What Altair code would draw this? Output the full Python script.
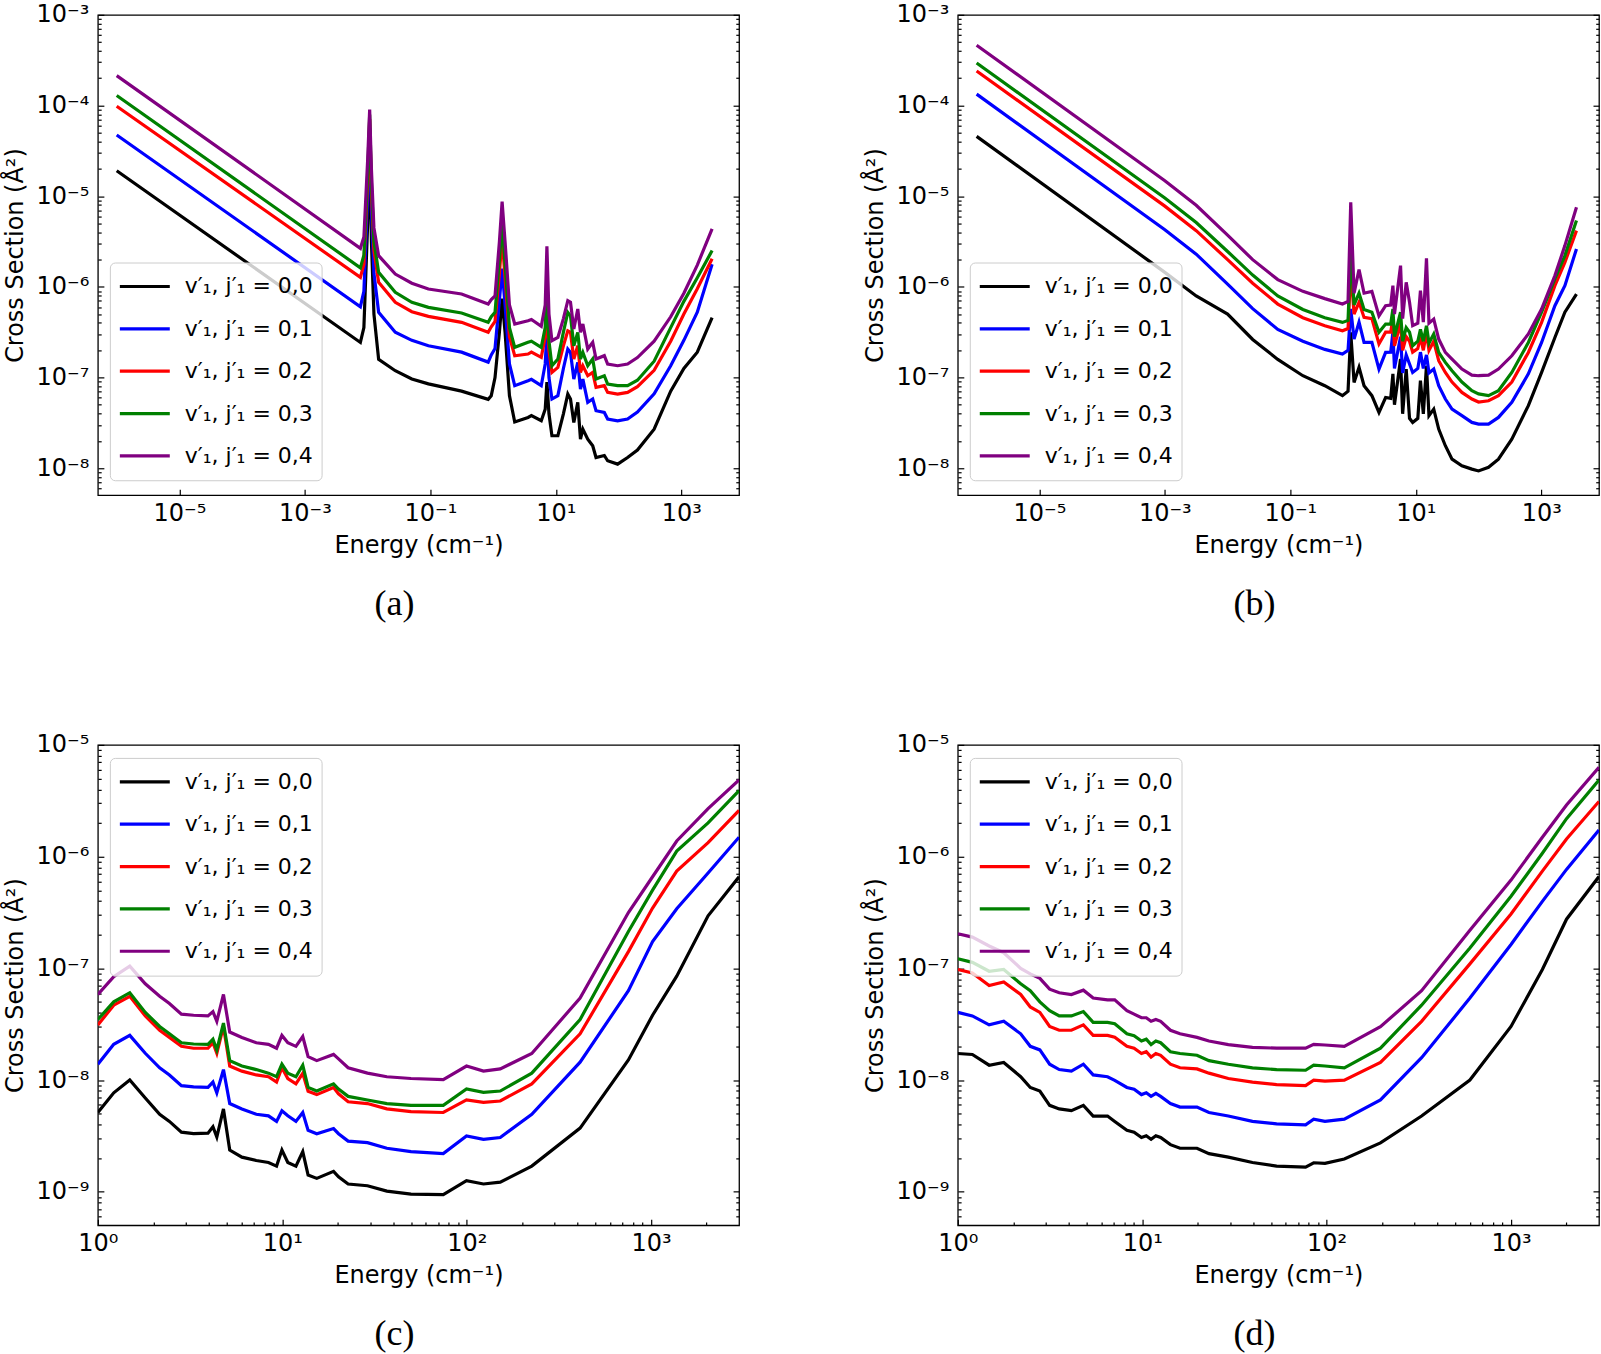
import altair as alt
import pandas as pd

SERIES = ["v′₁, j′₁ = 0,0", "v′₁, j′₁ = 0,1", "v′₁, j′₁ = 0,2",
          "v′₁, j′₁ = 0,3", "v′₁, j′₁ = 0,4"]
COLORS = ["#000000", "#0000ff", "#ff0000", "#008000", "#800080"]

# ---------------- panel (a): log10(E / cm^-1) and log10(sigma / A^2) ----------------
a_loge = [-6.0, -2.116, -2.06, -2.0, -1.968, -1.94, -1.90, -1.825, -1.56, -1.296, -1.032, -0.503,
          -0.079, -0.03, 0.03, 0.1, 0.143, 0.19, 0.26, 0.344, 0.556, 0.61, 0.767, 0.83, 0.857, 0.89,
          0.937, 1.032, 1.12, 1.19, 1.233, 1.286, 1.349, 1.392, 1.43, 1.508, 1.587, 1.64, 1.772,
          1.825, 1.984, 2.143, 2.3, 2.566, 2.83, 3.04, 3.254, 3.49]
a_00 = [-4.72, -6.613, -6.45, -5.3, -4.45, -5.5, -6.3, -6.8, -6.925, -7.016, -7.07, -7.15, -7.24,
        -7.2, -7.0, -6.5, -6.13, -6.5, -7.2, -7.49, -7.44, -7.42, -7.477, -7.35, -7.05, -7.4, -7.642,
        -7.642, -7.4, -7.182, -7.237, -7.495, -7.274, -7.679, -7.569, -7.679, -7.753, -7.882, -7.86,
        -7.918, -7.955, -7.882, -7.8, -7.57, -7.15, -6.9, -6.72, -6.34]
a_01 = [-4.325, -6.219, -6.05, -5.0, -4.25, -5.15, -5.85, -6.28, -6.5, -6.59, -6.65, -6.72, -6.83,
        -6.75, -6.68, -6.15, -5.8, -6.2, -6.85, -7.09, -7.035, -7.02, -7.09, -6.85, -6.5, -7.0,
        -7.237, -7.2, -6.9, -6.686, -6.723, -7.017, -6.833, -7.127, -7.017, -7.274, -7.237, -7.366,
        -7.385, -7.458, -7.477, -7.458, -7.38, -7.18, -6.87, -6.59, -6.28, -5.75]
a_02 = [-4.008, -5.895, -5.75, -4.85, -4.15, -4.95, -5.6, -5.95, -6.17, -6.274, -6.325, -6.391,
        -6.5, -6.44, -6.38, -5.85, -5.45, -5.9, -6.55, -6.76, -6.741, -6.72, -6.778, -6.55, -6.2,
        -6.7, -6.943, -6.888, -6.65, -6.484, -6.5, -6.796, -6.649, -6.943, -6.87, -6.98, -6.943,
        -7.109, -7.09, -7.164, -7.182, -7.164, -7.1, -6.92, -6.6, -6.3, -6.02, -5.69]
a_03 = [-3.89, -5.79, -5.65, -4.75, -4.1, -4.85, -5.5, -5.84, -6.061, -6.17, -6.226, -6.288, -6.391,
        -6.33, -6.28, -5.7, -5.3, -5.75, -6.45, -6.667, -6.612, -6.6, -6.668, -6.45, -6.0, -6.6,
        -6.87, -6.796, -6.5, -6.281, -6.32, -6.649, -6.502, -6.796, -6.723, -6.87, -6.796, -7.017,
        -6.98, -7.072, -7.09, -7.09, -7.03, -6.82, -6.45, -6.16, -5.9, -5.6]
a_04 = [-3.67, -5.575, -5.45, -4.6, -4.044, -4.7, -5.35, -5.656, -5.859, -5.96, -6.024, -6.079,
        -6.19, -6.14, -6.1, -5.5, -5.06, -5.5, -6.2, -6.41, -6.373, -6.36, -6.435, -6.2, -5.553,
        -6.3, -6.594, -6.557, -6.35, -6.152, -6.17, -6.465, -6.244, -6.502, -6.41, -6.686, -6.612,
        -6.796, -6.759, -6.851, -6.87, -6.851, -6.78, -6.6, -6.33, -6.07, -5.76, -5.36]

# ---------------- panel (b) ----------------
b_loge = [-6.0, -3.0, -2.5, -2.0, -1.6, -1.2, -0.8, -0.45, -0.169, -0.08, -0.037, 0.016, 0.095,
          0.175, 0.3, 0.413, 0.519, 0.6, 0.635, 0.66, 0.757, 0.79, 0.847, 0.9, 0.95, 1.032, 1.074,
          1.12, 1.17, 1.21, 1.286, 1.365, 1.471, 1.577, 1.735, 1.894, 2.0, 2.159, 2.317, 2.53,
          2.794, 3.005, 3.217, 3.376, 3.561]
b_00 = [-4.34, -5.84, -6.1, -6.3, -6.58, -6.8, -6.98, -7.09, -7.2, -7.15, -6.502, -7.054, -6.888,
        -7.09, -7.2, -7.385, -7.22, -7.23, -6.96, -7.3, -6.796, -7.4, -6.907, -7.45, -7.495, -7.45,
        -7.035, -7.4, -6.87, -7.42, -7.348, -7.568, -7.752, -7.9, -7.973, -8.01, -8.03, -7.99,
        -7.9, -7.68, -7.31, -6.944, -6.558, -6.28, -6.08]
b_01 = [-3.875, -5.37, -5.64, -5.97, -6.24, -6.47, -6.6, -6.69, -6.741, -6.7, -6.244, -6.576,
        -6.39, -6.612, -6.612, -6.907, -6.723, -6.72, -6.5, -6.9, -6.55, -6.95, -6.75, -6.85,
        -6.944, -6.9, -6.72, -6.9, -6.75, -6.95, -6.907, -7.09, -7.237, -7.348, -7.42, -7.495,
        -7.513, -7.513, -7.44, -7.274, -6.96, -6.613, -6.208, -5.987, -5.582]
b_02 = [-3.619, -5.11, -5.38, -5.7, -5.96, -6.19, -6.34, -6.43, -6.484, -6.46, -5.8, -6.3, -6.17,
        -6.337, -6.35, -6.63, -6.5, -6.5, -6.35, -6.65, -6.4, -6.7, -6.55, -6.6, -6.72, -6.68,
        -6.55, -6.7, -6.5, -6.7, -6.6, -6.815, -6.944, -7.05, -7.164, -7.237, -7.27, -7.256, -7.2,
        -7.05, -6.723, -6.392, -5.987, -5.73, -5.38]
b_03 = [-3.532, -5.02, -5.29, -5.61, -5.87, -6.1, -6.25, -6.34, -6.392, -6.37, -5.6, -6.2, -6.07,
        -6.25, -6.28, -6.5, -6.41, -6.41, -6.245, -6.55, -6.28, -6.6, -6.45, -6.5, -6.65, -6.6,
        -6.47, -6.6, -6.43, -6.62, -6.52, -6.723, -6.833, -6.925, -7.05, -7.146, -7.18, -7.2,
        -7.146, -6.944, -6.613, -6.28, -5.913, -5.655, -5.269]
b_04 = [-3.335, -4.83, -5.1, -5.43, -5.7, -5.92, -6.05, -6.13, -6.189, -6.16, -5.067, -6.07, -5.81,
        -6.07, -6.05, -6.32, -6.208, -6.2, -5.987, -6.3, -5.766, -6.35, -5.95, -6.17, -6.428, -6.4,
        -6.042, -6.39, -5.685, -6.4, -6.355, -6.576, -6.723, -6.796, -6.907, -6.973, -6.98,
        -6.973, -6.907, -6.76, -6.52, -6.245, -5.876, -5.545, -5.122]

# ---------------- panel (c) ----------------
c_loge = [0.0, 0.086, 0.173, 0.257, 0.335, 0.388, 0.453, 0.519, 0.597, 0.624, 0.645, 0.681, 0.715,
          0.781, 0.859, 0.925, 0.969, 0.998, 1.03, 1.074, 1.111, 1.14, 1.187, 1.278, 1.305, 1.357,
          1.462, 1.567, 1.698, 1.873, 1.999, 2.091, 2.182, 2.353, 2.615, 2.877, 3.008, 3.139,
          3.309, 3.477]
c_00 = [-8.29, -8.114, -8.0, -8.16, -8.306, -8.37, -8.466, -8.48, -8.475, -8.418, -8.51, -8.258,
        -8.626, -8.69, -8.72, -8.738, -8.77, -8.626, -8.738, -8.77, -8.64, -8.85, -8.88, -8.817,
        -8.866, -8.93, -8.946, -8.994, -9.02, -9.026, -8.9, -8.93, -8.914, -8.77, -8.43, -7.82,
        -7.42, -7.07, -6.53, -6.18]
c_01 = [-7.858, -7.68, -7.6, -7.76, -7.89, -7.954, -8.05, -8.06, -8.066, -8.018, -8.114, -7.906,
        -8.21, -8.258, -8.306, -8.32, -8.37, -8.274, -8.32, -8.37, -8.29, -8.45, -8.48, -8.434,
        -8.48, -8.546, -8.56, -8.61, -8.64, -8.658, -8.5, -8.53, -8.514, -8.306, -7.84, -7.2,
        -6.76, -6.466, -6.146, -5.826]
c_02 = [-7.506, -7.33, -7.25, -7.426, -7.554, -7.618, -7.698, -7.715, -7.715, -7.666, -7.76, -7.52,
        -7.874, -7.92, -7.954, -7.97, -8.018, -7.89, -7.986, -8.034, -7.94, -8.1, -8.13, -8.066,
        -8.123, -8.194, -8.21, -8.258, -8.283, -8.29, -8.178, -8.2, -8.187, -8.034, -7.586,
        -6.85, -6.46, -6.13, -5.874, -5.586]
c_03 = [-7.458, -7.3, -7.218, -7.394, -7.52, -7.586, -7.666, -7.677, -7.68, -7.634, -7.73, -7.49,
        -7.826, -7.874, -7.906, -7.938, -7.97, -7.858, -7.938, -7.97, -7.867, -8.066, -8.098,
        -8.034, -8.08, -8.146, -8.178, -8.21, -8.226, -8.226, -8.08, -8.11, -8.098, -7.938,
        -7.458, -6.67, -6.3, -5.95, -5.698, -5.41]
c_04 = [-7.234, -7.074, -6.98, -7.138, -7.25, -7.314, -7.41, -7.42, -7.426, -7.387, -7.474, -7.234,
        -7.57, -7.618, -7.666, -7.68, -7.715, -7.6, -7.666, -7.698, -7.61, -7.79, -7.826, -7.77,
        -7.81, -7.89, -7.938, -7.97, -7.986, -7.995, -7.874, -7.92, -7.9, -7.762, -7.266, -6.5,
        -6.18, -5.86, -5.57, -5.314]

# ---------------- panel (d) ----------------
d_loge = [0.0, 0.079, 0.17, 0.249, 0.341, 0.393, 0.445, 0.498, 0.55, 0.616, 0.681, 0.734, 0.812,
          0.851, 0.917, 0.956, 0.996, 1.022, 1.048, 1.074, 1.1, 1.153, 1.205, 1.297, 1.362, 1.467,
          1.598, 1.729, 1.886, 1.93, 1.991, 2.096, 2.292, 2.515, 2.777, 3.0, 3.17, 3.301, 3.477]
d_00 = [-7.762, -7.771, -7.867, -7.842, -7.97, -8.066, -8.098, -8.226, -8.258, -8.274, -8.226,
        -8.322, -8.322, -8.37, -8.45, -8.466, -8.514, -8.498, -8.53, -8.498, -8.514, -8.578, -8.61,
        -8.61, -8.658, -8.69, -8.738, -8.77, -8.779, -8.74, -8.745, -8.706, -8.562, -8.322, -8.0,
        -7.52, -7.01, -6.56, -6.178]
d_01 = [-7.394, -7.426, -7.506, -7.474, -7.586, -7.698, -7.73, -7.858, -7.906, -7.92, -7.858,
        -7.954, -7.97, -8.002, -8.066, -8.082, -8.13, -8.114, -8.146, -8.12, -8.146, -8.21, -8.242,
        -8.242, -8.29, -8.322, -8.37, -8.392, -8.4, -8.35, -8.37, -8.35, -8.178, -7.8, -7.266,
        -6.786, -6.4, -6.114, -5.762]
d_02 = [-7.01, -7.042, -7.154, -7.122, -7.234, -7.346, -7.394, -7.52, -7.554, -7.554, -7.506, -7.6,
        -7.6, -7.616, -7.698, -7.714, -7.762, -7.746, -7.794, -7.762, -7.778, -7.858, -7.89, -7.9,
        -7.938, -7.986, -8.018, -8.04, -8.05, -8.0, -8.01, -8.0, -7.842, -7.474, -6.96, -6.514,
        -6.13, -5.842, -5.506]
d_03 = [-6.914, -6.946, -7.026, -7.01, -7.138, -7.2, -7.3, -7.378, -7.426, -7.426, -7.387, -7.483,
        -7.483, -7.496, -7.586, -7.602, -7.65, -7.634, -7.682, -7.65, -7.666, -7.746, -7.762,
        -7.778, -7.826, -7.858, -7.89, -7.906, -7.912, -7.866, -7.874, -7.89, -7.714, -7.33,
        -6.818, -6.354, -5.97, -5.66, -5.314]
d_04 = [-6.69, -6.72, -6.8, -6.86, -7.0, -7.05, -7.09, -7.186, -7.218, -7.234, -7.195, -7.266,
        -7.282, -7.282, -7.378, -7.41, -7.442, -7.442, -7.474, -7.458, -7.474, -7.554, -7.586,
        -7.618, -7.65, -7.682, -7.707, -7.714, -7.714, -7.68, -7.686, -7.698, -7.522, -7.2, -6.658,
        -6.21, -5.826, -5.538, -5.2]

# axis ticks / labels
AB_XLABELS = [1e-5, 1e-3, 1e-1, 1e1, 1e3]
CD_XLABELS = [1.0, 10.0, 100.0, 1000.0]
AB_YLABELS = [1e-8, 1e-7, 1e-6, 1e-5, 1e-4, 1e-3]
CD_YLABELS = [1e-9, 1e-8, 1e-7, 1e-6, 1e-5]
AB_XDOM = [10 ** -6.3, 10 ** 3.92]
AB_YDOM = [10 ** -8.298, 1e-3]
CD_XDOM = [1.0, 3000.0]
CD_YDOM = [10 ** -9.3, 1e-5]

W, H = 642, 481
FONT = "DejaVu Sans"
FS = 24
LFS = 22
LW = 3.2
SUP = ("'10' + (round(log(datum.value)/LN10) < 0 ? '⁻' : '') + "
       "['⁰','¹','²','³','⁴','⁵','⁶','⁷','⁸','⁹'][abs(round(log(datum.value)/LN10))]")


def minor_ticks(dom):
    lo, hi = dom
    out = []
    for k in range(-12, 6):
        for m in range(2, 10):
            v = m * 10.0 ** k
            if lo * (1 + 1e-9) < v < hi * (1 - 1e-9):
                out.append(v)
    return out


def build_df(loge, lists):
    rows = []
    for name, ys in zip(SERIES, lists):
        for k, (lx, ly) in enumerate(zip(loge, ys)):
            rows.append({"series": name, "idx": k, "E": 10 ** lx, "S": 10 ** ly})
    return pd.DataFrame(rows)


def tick_axis(orient, values, size):
    off = -H if orient in ("top", "bottom") else -W
    return alt.Axis(orient=orient, offset=off, values=values, labels=False, domain=False,
                    grid=False, title=None, ticks=True, tickSize=size, tickColor="black",
                    tickWidth=1.2)


def panel(df, xdom, ydom, xlabels, xminor, ylabels, legend_y, caption):
    xs = alt.Scale(type="log", domain=xdom, nice=False)
    ys = alt.Scale(type="log", domain=ydom, nice=False)
    yminor = minor_ticks(ydom)
    base = alt.Chart(df)
    lines = base.mark_line(strokeWidth=LW, clip=True).encode(
        x=alt.X("E:Q", scale=xs, axis=alt.Axis(
            values=xlabels, labelExpr=SUP, ticks=False, tickSize=0, domain=False, grid=False,
            labelFlush=False, labelOverlap=False, labelPadding=6, title="Energy (cm⁻¹)",
            titlePadding=8)),
        y=alt.Y("S:Q", scale=ys, axis=alt.Axis(
            values=ylabels, labelExpr=SUP, ticks=False, tickSize=0, domain=False, grid=False,
            labelFlush=False, labelOverlap=False, labelPadding=9,
            title="Cross Section (Å²)", titlePadding=9)),
        color=alt.Color("series:N", scale=alt.Scale(domain=SERIES, range=COLORS),
                        legend=alt.Legend(
                            orient="none", legendX=12, legendY=legend_y, title=None,
                            symbolType="stroke", symbolSize=2500, symbolStrokeWidth=LW,
                            labelFont=FONT, labelFontSize=LFS, labelColor="black",
                            labelOffset=13, labelLimit=0, padding=8, rowPadding=10.4,
                            clipHeight=32, fillColor="rgba(255,255,255,0.8)",
                            strokeColor="#cccccc", cornerRadius=5)),
        order=alt.Order("idx:Q"),
    )

    def ghost(xaxis, yaxis):
        return base.mark_point(opacity=0, size=0, strokeWidth=0).encode(
            x=alt.X("E:Q", scale=xs, axis=xaxis),
            y=alt.Y("S:Q", scale=ys, axis=yaxis))

    layers = [
        lines,
        ghost(tick_axis("top", xlabels, 6), tick_axis("right", ylabels, 6)),
        ghost(tick_axis("top", xminor, 3.3) if xminor else None, tick_axis("right", yminor, 3.3)),
        ghost(None, tick_axis("left", ylabels, 6)),
        ghost(None, tick_axis("left", yminor, 3.3)),
    ]
    return alt.layer(*layers).resolve_axis(x="independent", y="independent").properties(
        width=W, height=H,
        title=alt.TitleParams(caption, orient="bottom", anchor="middle", frame="group",
                              font="Liberation Serif", fontSize=36, fontWeight="normal",
                              color="black", offset=30, dx=-24))


pa = panel(build_df(a_loge, [a_00, a_01, a_02, a_03, a_04]), AB_XDOM, AB_YDOM, AB_XLABELS, [],
           AB_YLABELS, 248, "(a)")
pb = panel(build_df(b_loge, [b_00, b_01, b_02, b_03, b_04]), AB_XDOM, AB_YDOM, AB_XLABELS, [],
           AB_YLABELS, 248, "(b)")
pc = panel(build_df(c_loge, [c_00, c_01, c_02, c_03, c_04]), CD_XDOM, CD_YDOM, CD_XLABELS,
           minor_ticks(CD_XDOM), CD_YLABELS, 13, "(c)")
pd_ = panel(build_df(d_loge, [d_00, d_01, d_02, d_03, d_04]), CD_XDOM, CD_YDOM, CD_XLABELS,
            minor_ticks(CD_XDOM), CD_YLABELS, 13, "(d)")

row1 = alt.hconcat(pa, pb, spacing=121).resolve_scale(color="independent").resolve_legend(color="independent")
row2 = alt.hconcat(pc, pd_, spacing=121).resolve_scale(color="independent").resolve_legend(color="independent")

chart = alt.vconcat(row1, row2, spacing=109).resolve_scale(color="independent").resolve_legend(
    color="independent").properties(
    padding={"left": 2, "top": 1, "right": 0, "bottom": 0}, background="white"
).configure_view(stroke="black", strokeWidth=1.3).configure_axis(
    labelFont=FONT, labelFontSize=FS, labelColor="black", titleFont=FONT, titleFontSize=FS,
    titleFontWeight="normal", titleColor="black")

chart.save("out.html", embed_options={"renderer": "svg", "actions": False})
